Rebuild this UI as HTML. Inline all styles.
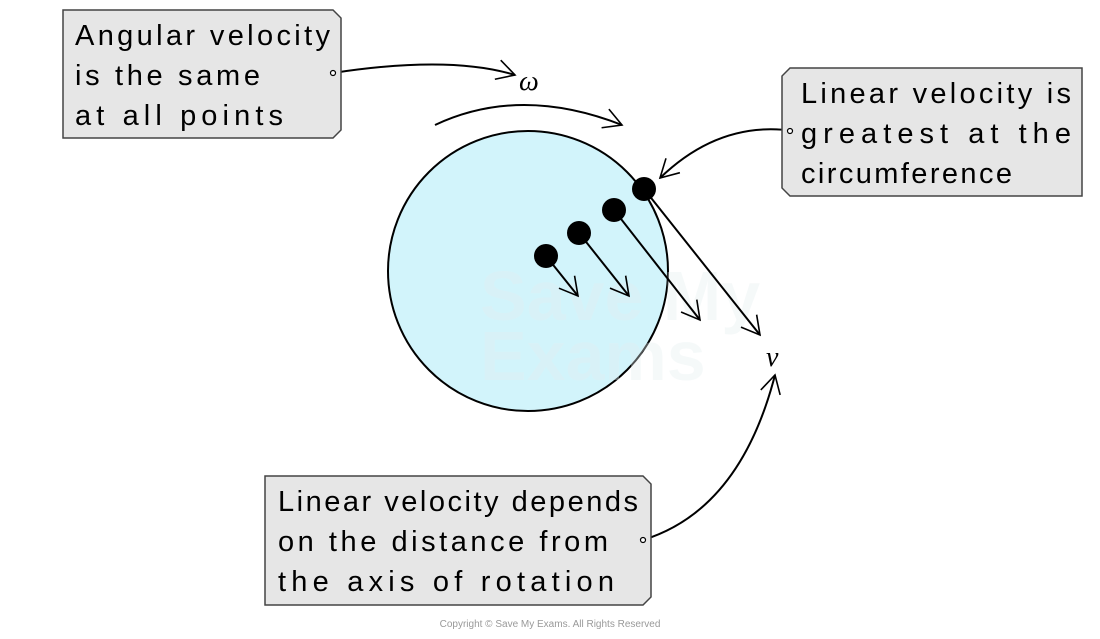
<!DOCTYPE html>
<html><head><meta charset="utf-8"><style>html,body{margin:0;padding:0;background:#fff}</style></head>
<body>
<svg width="1100" height="634" viewBox="0 0 1100 634" xmlns="http://www.w3.org/2000/svg" font-family="Liberation Sans, sans-serif">
<defs>
<marker id="a" markerWidth="24" markerHeight="24" refX="20" refY="12" orient="auto" markerUnits="userSpaceOnUse">
<path d="M2,2 L20,12 L2,22" fill="none" stroke="#000" stroke-width="1.6"/>
</marker>
</defs>
<circle cx="528" cy="271" r="140" fill="#d2f4fb" stroke="#000" stroke-width="2"/>
<text x="480" y="320" font-size="70" font-weight="bold" fill="#e4eef0" opacity="0.35">Save My</text>
<text x="480" y="380" font-size="70" font-weight="bold" fill="#e4eef0" opacity="0.35">Exams</text>
<g stroke="#000" stroke-width="2" fill="none" marker-end="url(#a)">
<line x1="546" y1="256" x2="578" y2="296"/>
<line x1="579" y1="233" x2="629" y2="296"/>
<line x1="614" y1="210" x2="700" y2="320"/>
<line x1="644" y1="189" x2="760" y2="335"/>
<path d="M435,125 Q520,85 622,125"/>
<path d="M333,73 Q450,55 515,75"/>
<path d="M794,131 Q720,120 660,178"/>
<path d="M643,540 Q740,510 775,375"/>
</g>
<g fill="#000"><circle cx="546" cy="256" r="12"/><circle cx="579" cy="233" r="12"/><circle cx="614" cy="210" r="12"/><circle cx="644" cy="189" r="12"/></g>
<g fill="#e6e6e6" stroke="#444" stroke-width="1.5">
<path d="M63,10 L333,10 L341,18 L341,130 L333,138 L63,138 Z"/>
<path d="M790,68 L1082,68 L1082,196 L790,196 L782,188 L782,76 Z"/>
<path d="M265,476 L643,476 L651,484 L651,597 L643,605 L265,605 Z"/>
</g>
<g fill="#fff" stroke="#000" stroke-width="1.2"><circle cx="333" cy="73" r="2.5"/><circle cx="790" cy="131" r="2.5"/><circle cx="643" cy="540" r="2.5"/></g>
<g font-size="29" fill="#000">
<text x="75" y="45" textLength="255">Angular velocity</text>
<text x="75" y="85" textLength="185">is the same</text>
<text x="75" y="125" textLength="208">at all points</text>
<text x="801" y="103" textLength="270">Linear velocity is</text>
<text x="801" y="143" textLength="270">greatest at the</text>
<text x="801" y="183" textLength="211">circumference</text>
<text x="278" y="511" textLength="360">Linear velocity depends</text>
<text x="278" y="551" textLength="330">on the distance from</text>
<text x="278" y="591" textLength="336">the axis of rotation</text>
</g>
<text x="519" y="90" font-size="28" font-family="Liberation Serif, serif" font-style="italic">ω</text>
<text x="766" y="366" font-size="28" font-family="Liberation Serif, serif" font-style="italic">v</text>
<text x="550" y="627" font-size="10" fill="#999" text-anchor="middle">Copyright © Save My Exams. All Rights Reserved</text>
</svg>
</body></html>
